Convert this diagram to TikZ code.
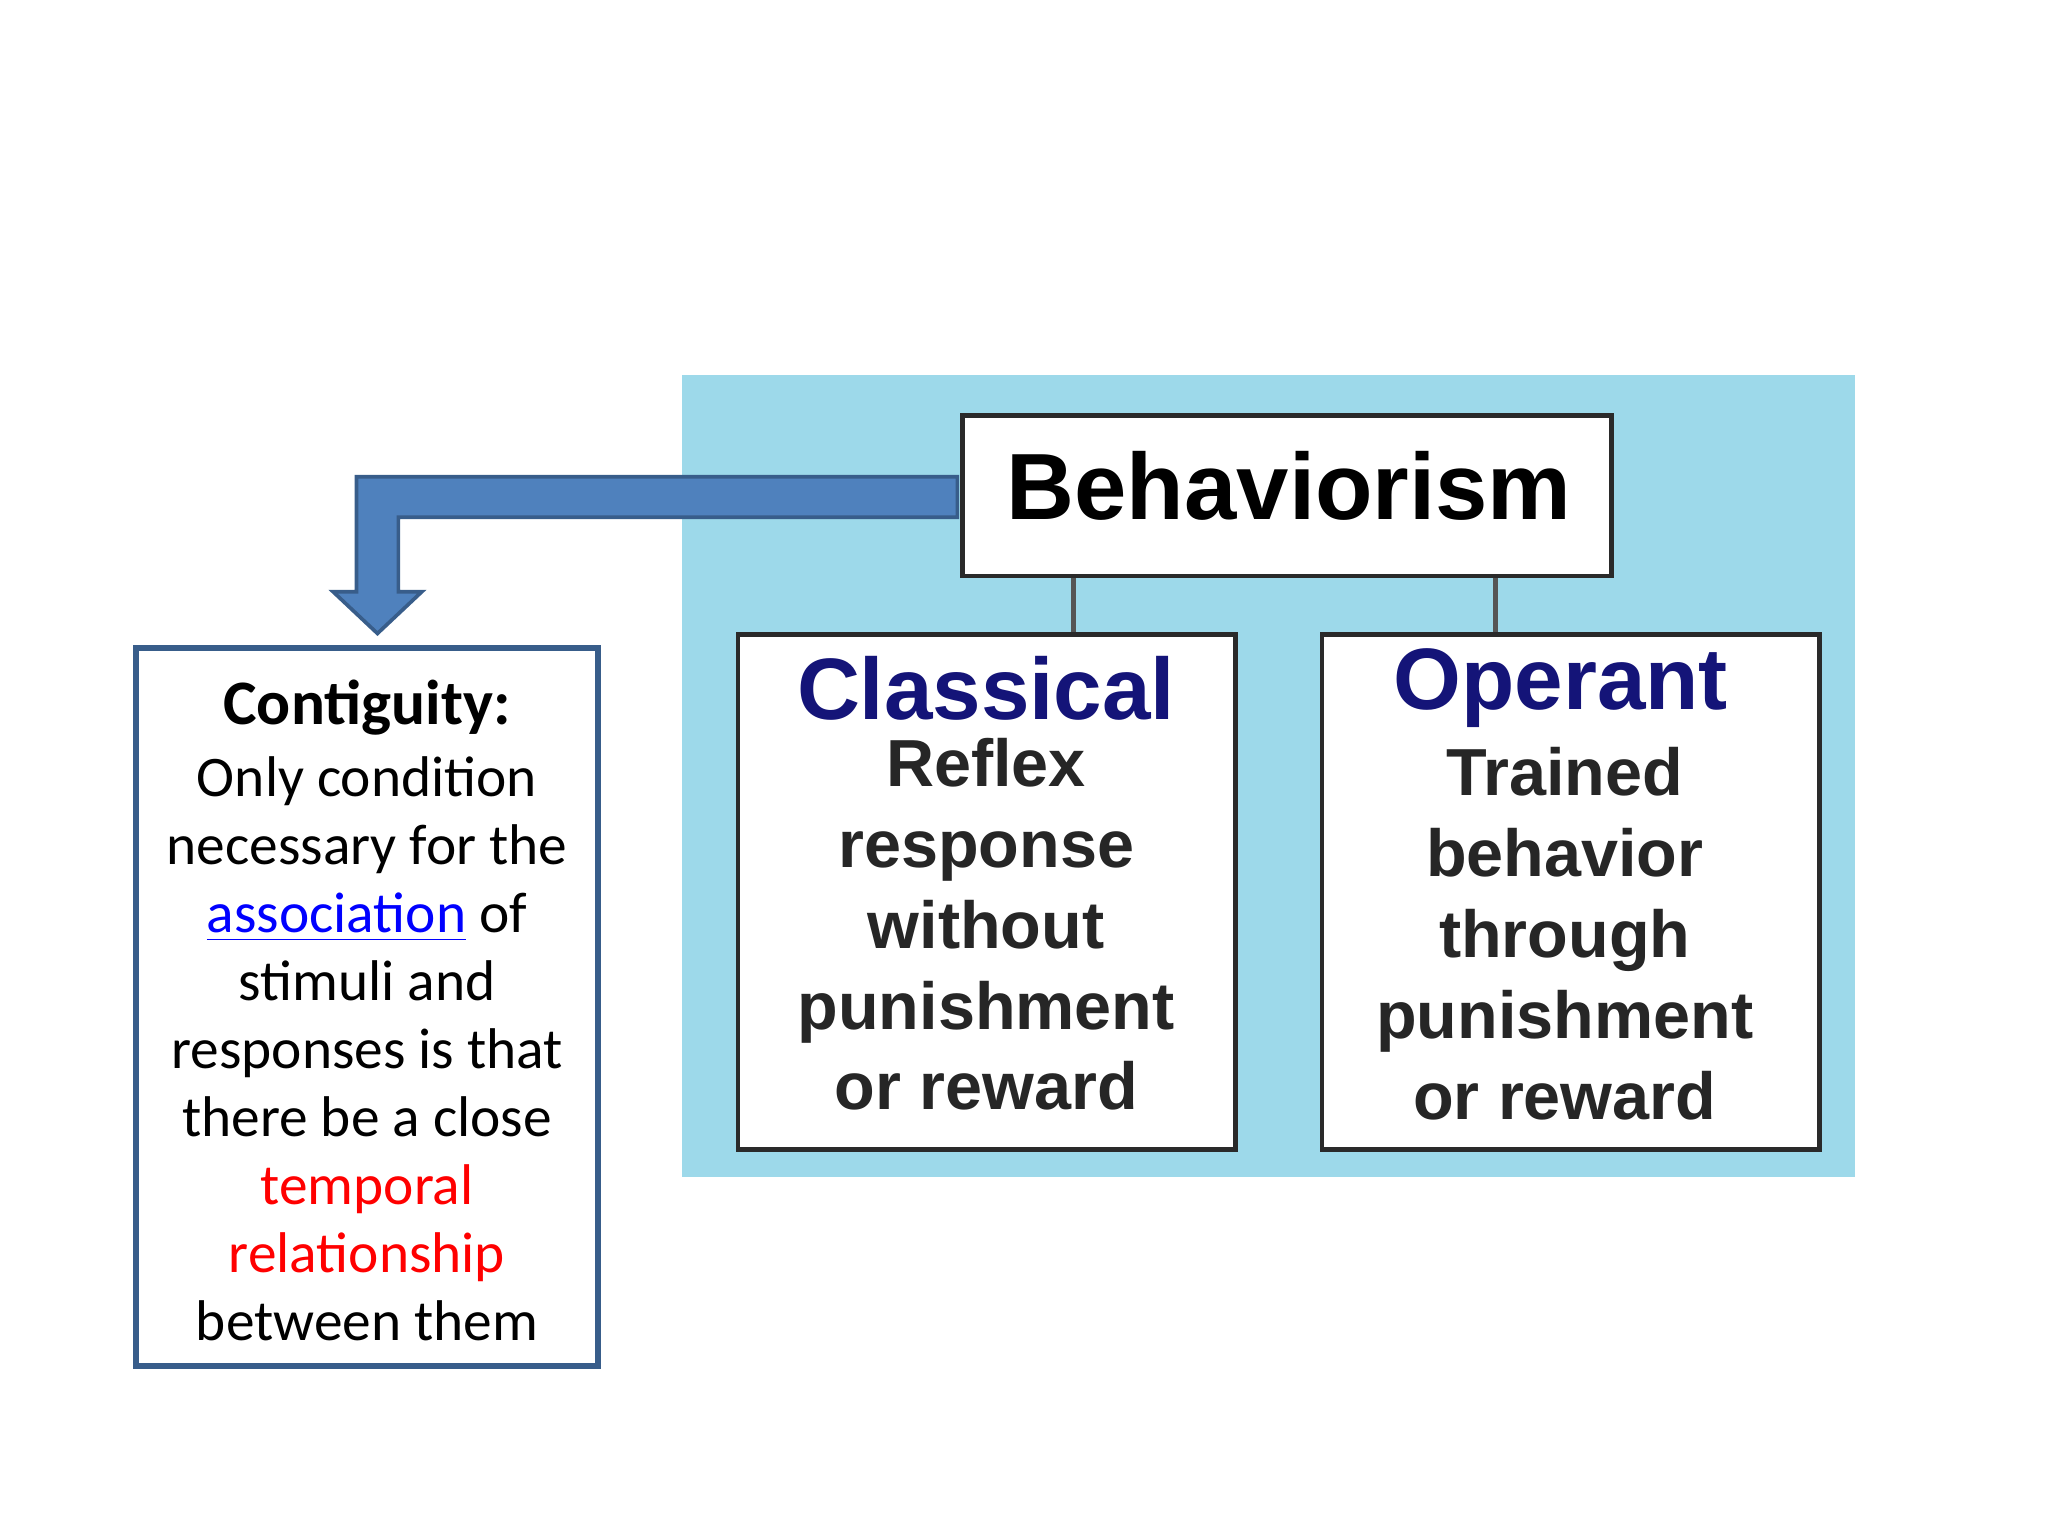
\documentclass[tikz,border=0pt]{standalone}
\usepackage{fontspec}
\setmainfont{Liberation Sans}
\newfontfamily\carlitofont{Carlito}
\definecolor{bgblue}{HTML}{9DD9EA}
\definecolor{arrfill}{HTML}{4F81BD}
\definecolor{arrline}{HTML}{385D8A}
\definecolor{navy}{HTML}{141478}
\definecolor{boxline}{HTML}{2A2A2A}
\begin{document}
\begin{tikzpicture}[x=0.1mm,y=-0.1mm,
  wbox/.style={draw=boxline,line width=1pt,fill=white},
  conn/.style={draw=boxline!80,line width=1.2pt},
  head/.style={font=\fontsize{19}{21}\selectfont\bfseries,text=navy},
  body/.style={font=\fontsize{14.5}{17.6}\selectfont\bfseries,align=center,text=black!85}]
\useasboundingbox (0,0) rectangle (1568,1176);
\fill[bgblue] (522,287) rectangle (1420,901);
\draw[conn] (822,441) -- (822,486);
\draw[conn] (1145,441) -- (1145,486);
\node[wbox,minimum width=497*0.1mm,minimum height=123*0.1mm] (beh) at (985.5,379.5) {};
\node[font=\fontsize{20.5}{22}\selectfont\bfseries] (behT) at (987,372) {Behaviorism};
\node[wbox,minimum width=381*0.1mm,minimum height=394*0.1mm] (cl) at (755.5,683) {};
\node[wbox,minimum width=381*0.1mm,minimum height=394*0.1mm] (op) at (1202.5,683) {};
\node[head] (clH) at (755,527) {Classical};
\node[body,anchor=north] (clB) at (755,553) {Reflex\\response\\without\\punishment\\or reward};
\node[head] (opH) at (1195,527) {Operant};
\node[body,anchor=north] (opB) at (1198,560) {Trained\\behavior\\through\\punishment\\or reward};
% arrow
\draw[fill=arrfill,draw=arrline,line width=0.8pt]
 (733,365) -- (273,365) -- (273,453) -- (255,453) -- (289,485) -- (323,453) -- (305,453)
 -- (305,396) -- (733,396) -- cycle;
\node[draw=arrline,line width=1.2pt,fill=white,minimum width=354*0.1mm,minimum height=550*0.1mm] (ct) at (281,771) {};
\node[anchor=north,align=center,font=\carlitofont\fontsize{12.5}{14.8}\selectfont] (ctT) at (281,508)
 {{\fontsize{13.8}{15}\selectfont\bfseries Contiguity:}\\[1pt]
 Only condition\\necessary for the\\{\color{blue}\underline{association}} of\\stimuli and\\responses is that\\there be a close\\{\color{red}temporal}\\{\color{red}relationship}\\between them};
\end{tikzpicture}
\end{document}
